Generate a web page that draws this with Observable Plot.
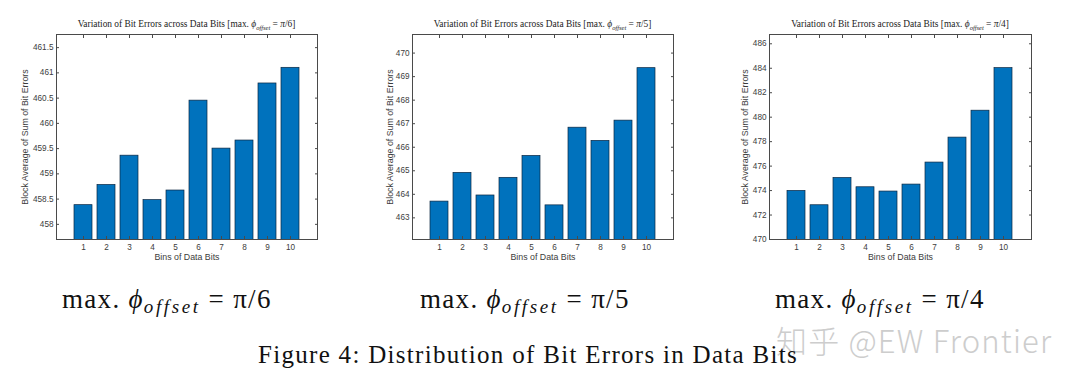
<!DOCTYPE html>
<html>
<head>
<meta charset="utf-8">
<script src="https://cdn.jsdelivr.net/npm/d3@7"></script>
<script src="https://cdn.jsdelivr.net/npm/@observablehq/plot@0.6"></script>
<style>
  body { margin: 0; background: #fff; }
  #root { position: relative; width: 1077px; height: 378px; overflow: hidden; background: #fff; }
  .panel { position: absolute; top: 0; }
  .ptitle { position: absolute; font-family: "Liberation Serif", serif; font-size: 9.4px; line-height: 1; color: #222; white-space: nowrap; transform: translateX(-50%); }
  .ptitle sub { font-size: 6.5px; font-style: italic; }
  .cap { position: absolute; font-family: "Liberation Serif", "DejaVu Serif", serif; font-size: 27px; line-height: 1; color: #111; white-space: nowrap; letter-spacing: 1.3px; }
  .cap i { font-style: italic; }
  .cap sub { font-size: 19px; font-style: italic; letter-spacing: 2.6px; line-height: 0.8; vertical-align: -5px; }
  .fig { position: absolute; font-family: "Liberation Serif", "DejaVu Serif", serif; font-size: 25px; line-height: 1; color: #111; white-space: nowrap; letter-spacing: 1.3px; }
  .wm { position: absolute; font-family: "Noto Sans CJK SC", "Noto Sans", sans-serif; font-size: 31px; line-height: 1; color: #cdcdcd; white-space: nowrap; font-weight: 300; letter-spacing: 1.2px; }
</style>
</head>
<body>
<div id="root"></div>
<script>
// ---- data ----
const bins = [1, 2, 3, 4, 5, 6, 7, 8, 9, 10];
const errorsPi6 = [458.38, 458.78, 459.36, 458.48, 458.67, 460.45, 459.50, 459.66, 460.79, 461.10];
const errorsPi5 = [463.69, 464.91, 463.95, 464.70, 465.63, 463.53, 466.83, 466.27, 467.13, 469.36];
const errorsPi4 = [473.97, 472.80, 475.03, 474.27, 473.92, 474.49, 476.29, 478.33, 480.53, 484.01];
const ticksPi6 = [458, 458.5, 459, 459.5, 460, 460.5, 461, 461.5];
const ticksPi5 = [463, 464, 465, 466, 467, 468, 469, 470];
const ticksPi4 = [470, 472, 474, 476, 478, 480, 482, 484, 486];
const domainPi6 = [457.70, 461.76];
const domainPi5 = [462.08, 470.79];
const domainPi4 = [470, 486.76];
const offsetLabels = ["π/6", "π/5", "π/4"];
const titleText = "Variation of Bit Errors across Data Bits";
const yLabel = "Block Average of Sum of Bit Errors";
const xLabel = "Bins of Data Bits";
const figureCaption = "Figure 4: Distribution of Bit Errors in Data Bits";
const watermark = "知乎 @EW Frontier";

const root = document.getElementById("root");
const axisColor = "#4a4a4a";
const textColor = "#3c3c3c";

function panel(values, ticks, domain, label, layout) {
  const data = bins.map((b, i) => ({bin: b, value: values[i]}));
  const chart = Plot.plot({
    width: layout.width,
    height: 270,
    marginLeft: layout.ml,
    marginRight: layout.mr,
    marginTop: 34,
    marginBottom: 31,
    style: {fontFamily: "'Liberation Sans', Arial, sans-serif", background: "transparent", overflow: "visible"},
    x: {domain: bins, paddingInner: 0.2, paddingOuter: 0.755, axis: null},
    y: {domain, axis: null},
    marks: [
      Plot.barY(data, {x: "bin", y: "value", fill: "#0072BD", stroke: "#0a2540", strokeWidth: 0.7, clip: true}),
      Plot.frame({stroke: axisColor, strokeWidth: 1}),
      Plot.axisX({anchor: "bottom", tickSize: -3, tickPadding: 8, fontSize: 8.2, color: textColor, stroke: axisColor, label: null}),
      Plot.axisX({anchor: "top", tickSize: -3, tickFormat: () => "", stroke: axisColor, label: null}),
      Plot.axisY({anchor: "left", ticks, tickSize: -3, tickPadding: 6, tickFormat: d => String(d), fontSize: 8.2, color: textColor, stroke: axisColor, label: null}),
      Plot.axisY({anchor: "right", ticks, tickSize: -3, tickFormat: () => "", stroke: axisColor, label: null}),
      Plot.text([yLabel], {frameAnchor: "left", textAnchor: "middle", rotate: -90, dx: -layout.yl, fontSize: 8.8, fill: textColor}),
      Plot.text([xLabel], {frameAnchor: "bottom", textAnchor: "middle", dy: 20, fontSize: 8.8, fill: textColor})
    ]
  });
  const wrap = document.createElement("div");
  wrap.className = "panel";
  wrap.style.left = layout.left + "px";
  wrap.appendChild(chart);
  root.appendChild(wrap);

  const t = document.createElement("div");
  t.className = "ptitle";
  const cx = layout.left + layout.ml + (layout.width - layout.ml - layout.mr) / 2;
  t.style.left = cx + "px";
  t.style.top = "20px";
  t.innerHTML = `${titleText} [max. <i>ϕ</i><sub>offset</sub> = <i>π</i>/${label.slice(2)}]`;
  root.appendChild(t);
}

panel(errorsPi6, ticksPi6, domainPi6, offsetLabels[0], {left: 0, width: 340, ml: 56, mr: 23, yl: 31});
panel(errorsPi5, ticksPi5, domainPi5, offsetLabels[1], {left: 360, width: 340, ml: 52, mr: 27, yl: 22});
panel(errorsPi4, ticksPi4, domainPi4, offsetLabels[2], {left: 720, width: 357, ml: 49, mr: 46, yl: 24});

// captions
const capLefts = [62, 420, 775];
offsetLabels.forEach((lab, i) => {
  const c = document.createElement("div");
  c.className = "cap";
  c.style.left = capLefts[i] + "px";
  c.style.top = "286px";
  c.innerHTML = `max. <i>ϕ</i><sub>offset</sub> = ${lab}`;
  root.appendChild(c);
});
const wm = document.createElement("div");
wm.className = "wm";
wm.style.left = "776px";
wm.style.top = "324px";
wm.textContent = watermark;
root.appendChild(wm);
const fg = document.createElement("div");
fg.className = "fig";
fg.style.left = "258px";
fg.style.top = "342px";
fg.textContent = figureCaption;
root.appendChild(fg);
</script>
</body>
</html>
